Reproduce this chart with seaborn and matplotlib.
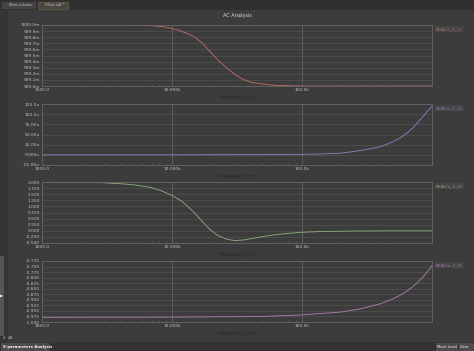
import numpy as np
import pandas as pd
import matplotlib
matplotlib.use('agg')
import matplotlib.pyplot as plt
from matplotlib.patches import Rectangle
import seaborn as sns

# ---- data ----
freq_s11 = [1e3, 4e3, 6.8e3, 8.8e3, 11.5e3, 14.5e3, 17e3, 19.5e3, 22.5e3, 26.5e3,
            30.5e3, 35e3, 41e3, 47e3, 62e3, 96e3, 1e6]
real_s11 = [1000.0, 1000.0, 999.99, 999.97, 999.91, 999.82, 999.71, 999.57, 999.43,
            999.29, 999.19, 999.11, 999.06, 999.04, 999.01, 999.0, 999.0]   # milli

freq_s12 = [1e3, 10e3, 50e3, 100e3, 138e3, 195e3, 234e3, 300e3, 350e3, 400e3,
            450e3, 500e3, 566e3, 640e3, 710e3, 780e3, 850e3, 910e3, 960e3, 1e6]
real_s12 = [0.0, 0.2, 0.6, 1.2, 2.0, 4.0, 7.0, 12.0, 16.0, 20.0, 26.0, 32.0,
            41.0, 53.0, 66.0, 80.0, 94.0, 105.0, 113.0, 119.0]   # micro

freq_s21 = [1e3, 2e3, 3e3, 4e3, 5e3, 6.8e3, 8.2e3, 10e3, 12e3, 14.5e3, 17e3,
            19.5e3, 22.5e3, 26.5e3, 30.5e3, 35e3, 41e3, 47e3, 62e3, 81e3, 100e3,
            138e3, 250e3, 500e3, 1e6]
real_s21 = [2.0, 1.99, 1.97, 1.93, 1.89, 1.78, 1.65, 1.45, 1.2, 0.8, 0.4, 0.06,
            -0.19, -0.35, -0.40, -0.38, -0.32, -0.26, -0.16, -0.10, -0.06, -0.03,
            -0.01, 0.0, 0.0]

freq_s22 = [1e3, 10e3, 50e3, 100e3, 200e3, 280e3, 400e3, 500e3, 566e3, 640e3,
            710e3, 780e3, 850e3, 910e3, 960e3, 1e6]
real_s22 = [-0.979, -0.978, -0.975, -0.968, -0.955, -0.941, -0.918, -0.896,
            -0.880, -0.861, -0.841, -0.820, -0.798, -0.777, -0.760, -0.745]

x_ticks = [1e3, 1e4, 1e5]
x_labels = ["1000.0", "10.000k", "100.0k"]

y1_ticks = [999.0 + 0.1 * i for i in range(11)]
y1_labels = ["999.0m", "999.1m", "999.2m", "999.3m", "999.4m", "999.5m",
             "999.6m", "999.7m", "999.8m", "999.9m", "1000.0m"]
y2_ticks = [-25, 0, 25, 50, 75, 100, 125]
y2_labels = ["-25.00u", "0.000u", "25.00u", "50.00u", "75.00u", "100.0u", "125.0u"]
y3_ticks = [-0.5, -0.25, 0, 0.25, 0.5, 0.75, 1.0, 1.25, 1.5, 1.75, 2.0]
y3_labels = ["-0.500", "-0.250", "0.000", "0.250", "0.500", "0.750", "1.000",
             "1.250", "1.500", "1.750", "2.000"]
y4_ticks = [-1.0 + 0.025 * i for i in range(12)]
y4_labels = ["-1.000", "-0.975", "-0.950", "-0.925", "-0.900", "-0.875", "-0.850",
             "-0.825", "-0.800", "-0.775", "-0.750", "-0.725"]

BG = "#3c3c3c"
GRID = "#4f4f4f"
TXT = "#c0c0c0"

sns.set_theme(style="dark", rc={
    "figure.facecolor": BG, "axes.facecolor": BG, "axes.edgecolor": "#666666",
    "text.color": TXT, "xtick.color": TXT, "ytick.color": TXT,
})
plt.rcParams['font.family'] = ['DejaVu Sans']

W, H = 474, 351
fig = plt.figure(figsize=(W / 100, H / 100), dpi=100)

panels = [
    (freq_s11, real_s11, "REAL(s_1_1)", "#b86c64", y1_ticks, y1_labels, 25, 86),
    (freq_s12, real_s12, "REAL(s_1_2)", "#8080bc", y2_ticks, y2_labels, 104, 165),
    (freq_s21, real_s21, "REAL(s_2_1)", "#8aa87c", y3_ticks, y3_labels, 182, 243),
    (freq_s22, real_s22, "REAL(s_2_2)", "#a87ca8", y4_ticks, y4_labels, 261, 322),
]

left, right = 42, 432
for fx, fy, name, col, yt, yl, top, bot in panels:
    ax = fig.add_axes([left / W, 1 - bot / H, (right - left) / W, (bot - top) / H])
    df = pd.DataFrame({"freq": fx, "val": fy})
    sns.lineplot(data=df, x="freq", y="val", ax=ax, color=col, linewidth=0.65)
    ax.set_xscale("log")
    ax.set_xlim(1e3, 1e6)
    ax.set_ylim(yt[0], yt[-1])
    ax.set_yticks(yt)
    ax.set_yticklabels(yl, fontsize=3.2)
    ax.set_xticks(x_ticks)
    ax.set_xticklabels(x_labels, fontsize=3.2)
    ax.tick_params(axis="both", which="major", length=0, pad=1.5)
    ax.tick_params(axis="x", which="minor", direction="in", length=1.5,
                   color="#666666", width=0.4, bottom=True)
    ax.set_xlabel("Frequency (Hz)", fontsize=3.4, labelpad=2)
    ax.set_ylabel("")
    ax.grid(False)
    for v in yt:
        ax.axhline(v, color=GRID, linewidth=0.6, zorder=0)
    for v in x_ticks[1:]:
        ax.axvline(v, color="#636363", linewidth=0.6, zorder=0)
    for s in ax.spines.values():
        s.set_linewidth(0.6)
        s.set_color("#666666")
    fig.text(436 / W, 1 - (top + 4) / H, name, color=col, fontsize=3.2, va="center",
             bbox=dict(facecolor="#454545", edgecolor="none", pad=0.8))

fig.text(0.5, 1 - 16 / H, "AC Analysis", ha="center", va="center", fontsize=3.6, color="#dcdcdc")

# window chrome: tab bar, side strip, bottom bar
fig.patches.append(Rectangle((0, 1 - 10 / H), 1, 10 / H, transform=fig.transFigure,
                             facecolor="#303030", edgecolor="none", zorder=-1))
fig.patches.append(Rectangle((2 / W, 1 - 9 / H), 34 / W, 7 / H, transform=fig.transFigure,
                             facecolor="#444444", edgecolor="none"))
fig.patches.append(Rectangle((38 / W, 1 - 9 / H), 30 / W, 7 / H, transform=fig.transFigure,
                             facecolor="#4a4640", edgecolor="#7a6a50", linewidth=0.4))
fig.text(9 / W, 1 - 5.5 / H, "Filter.schdoc", fontsize=2.8, va="center", color=TXT)
fig.text(45 / W, 1 - 5.5 / H, "Filter.sdf *", fontsize=2.8, va="center", color=TXT)
fig.patches.append(Rectangle((0, 0), 8 / W, 1 - 10 / H, transform=fig.transFigure,
                             facecolor="#353535", edgecolor="none", zorder=-1))
fig.patches.append(Rectangle((0, 1 - 336 / H), 4 / W, 80 / H, transform=fig.transFigure,
                             facecolor="#555555", edgecolor="none"))
fig.text(2 / W, 1 - 297 / H, "\u25b6", fontsize=3, ha="center", va="center", color="#e8e8e8")
fig.text(3 / W, 1 - 338 / H, "4  dB", fontsize=2.6, va="center", color=TXT)
fig.patches.append(Rectangle((0, 0), 1, 9 / H, transform=fig.transFigure,
                             facecolor="#333333", edgecolor="none", zorder=-1))
fig.patches.append(Rectangle((1 / W, 0), 48 / W, 8 / H, transform=fig.transFigure,
                             facecolor="#4c4c4c", edgecolor="none"))
fig.text(3 / W, 4 / H, "S-parameters Analysis", fontsize=2.8, va="center",
         color="#f0f0f0", fontweight="bold")
fig.patches.append(Rectangle((436 / W, 0), 22 / W, 8 / H, transform=fig.transFigure,
                             facecolor="#4c4c4c", edgecolor="none"))
fig.patches.append(Rectangle((459 / W, 0), 15 / W, 8 / H, transform=fig.transFigure,
                             facecolor="#4c4c4c", edgecolor="none"))
fig.text(437 / W, 4 / H, "Mock Level", fontsize=2.6, va="center", color="#f0f0f0")
fig.text(460 / W, 4 / H, "Clear", fontsize=2.6, va="center", color="#f0f0f0")

fig.savefig("out.png", dpi=100, facecolor=BG)
